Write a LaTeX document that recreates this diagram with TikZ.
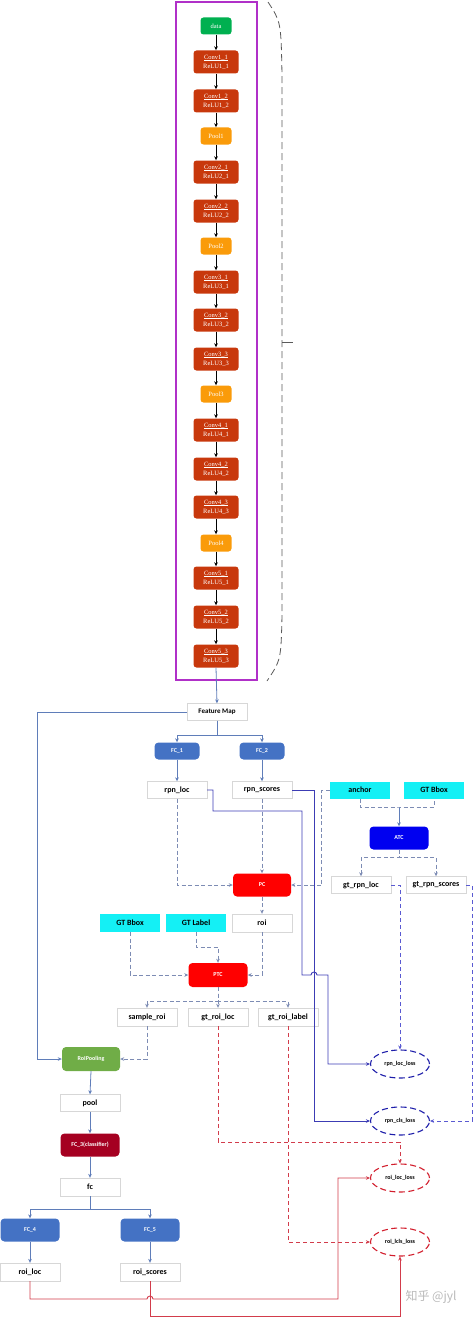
\documentclass[tikz,border=0pt]{standalone}
\usepackage{fontspec}
\setmainfont{Liberation Serif}
\newfontfamily\carl{Carlito}
\newfontfamily\cjk{Noto Sans CJK SC}
\usetikzlibrary{arrows.meta,shapes.geometric}
\definecolor{convc}{RGB}{200,56,12}
\definecolor{poolc}{RGB}{250,155,10}
\definecolor{datac}{RGB}{0,176,80}
\definecolor{vggbox}{RGB}{176,48,200}
\definecolor{lineblue}{RGB}{95,125,185}
\definecolor{dashgray}{RGB}{125,140,180}
\definecolor{fcblue}{RGB}{68,114,196}
\definecolor{navyc}{RGB}{60,60,180}
\definecolor{bdash}{RGB}{90,90,210}
\definecolor{lossblue}{RGB}{30,30,170}
\definecolor{redl}{RGB}{210,60,75}
\definecolor{lossred}{RGB}{210,30,45}
\definecolor{cyanc}{RGB}{20,240,245}
\definecolor{atcc}{RGB}{0,0,240}
\definecolor{pcred}{RGB}{255,0,0}
\definecolor{fc3c}{RGB}{165,0,33}
\definecolor{roipc}{RGB}{112,173,71}
\definecolor{boxgray}{RGB}{215,215,215}
\definecolor{bracec}{RGB}{90,90,90}
\definecolor{wmark}{RGB}{185,185,185}
\newcommand\ulname[1]{\setbox0\hbox{#1}\rlap{\rule[-1.3pt]{\wd0}{0.35pt}}\box0}
\begin{document}
\begin{tikzpicture}[x=1pt,y=-1pt,
  tip/.style={-{Stealth[length=4pt,width=3.6pt]}},
  vgg/.style={rounded corners=3pt, inner sep=0pt, text=white, align=center,
    font=\fontsize{6.5}{8.8}\selectfont},
  conv/.style={vgg, fill=convc, minimum width=45pt, minimum height=23pt},
  poolv/.style={vgg, fill=poolc, minimum width=31pt, minimum height=17pt},
  datav/.style={vgg, fill=datac, minimum width=31pt, minimum height=17pt},
  vggarrow/.style={tip, draw=black, line width=0.8pt},
  wbox/.style={draw=boxgray, fill=white, minimum width=60pt, minimum height=18pt,
    inner sep=0pt, font=\carl\bfseries\fontsize{8}{9}\selectfont},
  cbox/.style={fill=cyanc, minimum width=60pt, minimum height=18pt, inner sep=0pt,
    font=\carl\bfseries\fontsize{8}{9}\selectfont},
  rbox/.style={rounded corners=4pt, minimum width=59pt, minimum height=23pt,
    inner sep=0pt, text=white, font=\carl\bfseries\fontsize{6}{7}\selectfont},
  loss/.style={ellipse, draw, line width=1.1pt, dash pattern=on 6pt off 3.5pt,
    minimum width=59pt, minimum height=28pt, inner sep=0pt,
    font=\carl\bfseries\fontsize{6}{7}\selectfont},
  sl/.style={draw=lineblue, line width=0.8pt},
  dl/.style={draw=dashgray, line width=0.8pt, dash pattern=on 4pt off 2.5pt},
  nv/.style={draw=navyc, line width=0.9pt},
  bd/.style={draw=bdash, line width=0.9pt, dash pattern=on 4pt off 3pt},
  rs/.style={draw=redl, line width=0.9pt},
  rd/.style={draw=redl, line width=0.9pt, dash pattern=on 4pt off 3pt},
]
\useasboundingbox (0,0) rectangle (474,1319);

% VGG frame and brace
\node[draw=vggbox, line width=1.6pt, minimum width=81pt, minimum height=678pt, inner sep=0pt] (frame) at (216.5,341) {};
\draw[draw=bracec, line width=0.8pt, dash pattern=on 7pt off 4pt]
  (268,2) .. controls (281,22) .. (282,75) -- (282,615) .. controls (281,660) .. (267,681);
\draw[draw=bracec, line width=0.8pt] (282,342) -- (293,342);

% VGG nodes
\node[datav] (data) at (216,26) {data};
\node[conv] (c11) at (216,62) {\ulname{Conv1\_1}\\ReLU1\_1};
\node[conv] (c12) at (216,101) {\ulname{Conv1\_2}\\ReLU1\_2};
\node[poolv] (p1) at (216,136) {Pool1};
\node[conv] (c21) at (216,172) {\ulname{Conv2\_1}\\ReLU2\_1};
\node[conv] (c22) at (216,211) {\ulname{Conv2\_2}\\ReLU2\_2};
\node[poolv] (p2) at (216,246) {Pool2};
\node[conv] (c31) at (216,282) {\ulname{Conv3\_1}\\ReLU3\_1};
\node[conv] (c32) at (216,320) {\ulname{Conv3\_2}\\ReLU3\_2};
\node[conv] (c33) at (216,359) {\ulname{Conv3\_3}\\ReLU3\_3};
\node[poolv] (p3) at (216,394) {Pool3};
\node[conv] (c41) at (216,430) {\ulname{Conv4\_1}\\ReLU4\_1};
\node[conv] (c42) at (216,469) {\ulname{Conv4\_2}\\ReLU4\_2};
\node[conv] (c43) at (216,507) {\ulname{Conv4\_3}\\ReLU4\_3};
\node[poolv] (p4) at (216,543) {Pool4};
\node[conv] (c51) at (216,578) {\ulname{Conv5\_1}\\ReLU5\_1};
\node[conv] (c52) at (216,617) {\ulname{Conv5\_2}\\ReLU5\_2};
\node[conv] (c53) at (216,656) {\ulname{Conv5\_3}\\ReLU5\_3};
\foreach \a/\b in {data/c11,c11/c12,c12/p1,p1/c21,c21/c22,c22/p2,p2/c31,c31/c32,c32/c33,c33/p3,p3/c41,c41/c42,c42/c43,c43/p4,p4/c51,c51/c52,c52/c53}
  \draw[vggarrow] (\a.south) -- (\b.north);

% RPN part
\node[wbox, minimum height=17pt, font=\carl\bfseries\fontsize{7}{8}\selectfont] (fm) at (217,712) {Feature Map};
\node[rbox, fill=fcblue, minimum width=45pt, minimum height=17pt] (fc1) at (177,751) {FC\_1};
\node[rbox, fill=fcblue, minimum width=45pt, minimum height=17pt] (fc2) at (262,751) {FC\_2};
\node[wbox, minimum height=17pt] (rpnloc) at (177,790) {rpn\_loc};
\node[wbox, minimum height=17pt] (rpnscores) at (262,790) {rpn\_scores};
\node[cbox, minimum height=17pt] (anchor) at (360,790) {anchor};
\node[cbox, minimum height=17pt] (gtb1) at (434,790) {GT Bbox};
\node[rbox, fill=atcc] (atc) at (399,838) {ATC};
\node[wbox, minimum height=17pt] (gtrpnloc) at (361,885) {gt\_rpn\_loc};
\node[wbox, minimum height=17pt] (gtrpnscores) at (436,885) {gt\_rpn\_scores};
\node[rbox, fill=pcred, minimum width=58pt] (pc) at (262,885) {PC};
\node[wbox] (roi) at (262,923) {roi};
\node[cbox] (gtb2) at (130,923) {GT Bbox};
\node[cbox] (gtlabel) at (196,923) {GT Label};
\node[rbox, fill=pcred, minimum height=24pt] (ptc) at (218,975) {PTC};
\node[wbox] (sampleroi) at (147,1017) {sample\_roi};
\node[wbox] (gtroiloc) at (218,1017) {gt\_roi\_loc};
\node[wbox] (gtroilabel) at (288,1017) {gt\_roi\_label};
\node[rbox, fill=roipc, minimum width=58pt, minimum height=24pt] (roip) at (91,1059) {RoIPooling};
\node[wbox, minimum height=17pt] (pool) at (90,1103) {pool};
\node[rbox, fill=fc3c] (fc3) at (90,1145) {FC\_3(classifier)};
\node[wbox] (fc) at (90,1187) {fc};
\node[rbox, fill=fcblue] (fc4) at (30,1230) {FC\_4};
\node[rbox, fill=fcblue] (fc5) at (150,1230) {FC\_5};
\node[wbox] (roiloc) at (30,1272) {roi\_loc};
\node[wbox] (roiscores) at (150,1272) {roi\_scores};
\node[loss, draw=lossblue] (rpnlocloss) at (400,1064) {rpn\_loc\_loss};
\node[loss, draw=lossblue] (rpnclsloss) at (400,1121) {rpn\_cls\_loss};
\node[loss, draw=lossred] (roilocloss) at (400,1178) {roi\_loc\_loss};
\node[loss, draw=lossred] (roilclsloss) at (400,1242) {roi\_lcls\_loss};
\node[text=wmark, font=\cjk\fontsize{12}{14}\selectfont, inner sep=0pt] (wm) at (431,1297) {知乎 @jyl};

% coordinates
\coordinate (fmL) at (37,712);
\coordinate (agJ) at (399,807);

% solid steel-blue connectors
\draw[sl,tip] (c53.south) -- (fm.north);
\draw[sl,tip] (fm.west) -- (fmL) |- (roip.west);
\draw[sl,tip] (fm.south) -- ++(0,15) -| (fc1.north);
\draw[sl,tip] (fm.south) -- ++(0,15) -| (fc2.north);
\draw[sl,tip] (fc1.south) -- (rpnloc.north);
\draw[sl,tip] (fc2.south) -- (rpnscores.north);
\draw[sl,tip] (agJ) -- (atc.north);
\draw[sl,tip] (roip.south) -- (pool.north);
\draw[sl,tip] (pool.south) -- (fc3.north);
\draw[sl,tip] (fc3.south) -- (fc.north);
\draw[sl,tip] (fc.south) -- ++(0,13) -| (fc4.north);
\draw[sl,tip] (fc.south) -- ++(0,13) -| (fc5.north);
\draw[sl,tip] (fc4.south) -- (roiloc.north);
\draw[sl,tip] (fc5.south) -- (roiscores.north);

% dashed gray-blue connectors
\draw[dl,tip] (rpnloc.south) |- (pc.west);
\draw[dl,tip] (rpnscores.south) -- (pc.north);
\draw[dl,tip] (anchor.west) -- ++(-8,0) |- (pc.east);
\draw[dl] (anchor.south) |- (agJ) -| (gtb1.south);
\draw[dl,tip] (atc.south) -- ++(0,8) -| (gtrpnloc.north);
\draw[dl,tip] (atc.south) -- ++(0,8) -| (gtrpnscores.north);
\draw[dl,tip] (pc.south) -- (roi.north);
\draw[dl,tip] (gtb2.south) |- (ptc.west);
\draw[dl,tip] (gtlabel.south) -- ++(0,15) -| (ptc.north);
\draw[dl,tip] (roi.south) |- (ptc.east);
\draw[dl,tip] (ptc.south) -- ++(0,14) -| (sampleroi.north);
\draw[dl,tip] (ptc.south) -- (gtroiloc.north);
\draw[dl,tip] (ptc.south) -- ++(0,14) -| (gtroilabel.north);
\draw[dl,tip] (sampleroi.south) |- (roip.east);

% navy solid to rpn losses
\draw[nv,tip] (rpnloc.east) -- (213,790) -- (213,811) -- (302,811) -- (302,975)
  -- (311,975) arc[start angle=180, end angle=360, radius=3] -- (328,975) |- (rpnlocloss.west);
\draw[nv,tip] (rpnscores.east) -- (314,790) |- (rpnclsloss.west);

% blue dashed from gt_rpn
\draw[bd,tip] (gtrpnloc.east) -| (rpnlocloss.north);
\draw[bd,tip] (gtrpnscores.east) -- (472,885) |- (rpnclsloss.east);

% red
\draw[rd,tip] (gtroiloc.south) |- (400,1142) -- (roilocloss.north);
\draw[rd,tip] (gtroilabel.south) |- (roilclsloss.west);
\draw[rs,tip] (roiloc.south) |- (147,1299) arc[start angle=180, end angle=360, radius=3] -- (338,1299) |- (roilocloss.west);
\draw[rs,tip] (roiscores.south) |- (roilclsloss.south |- 0,1316) -- (roilclsloss.south);
\end{tikzpicture}
\end{document}
